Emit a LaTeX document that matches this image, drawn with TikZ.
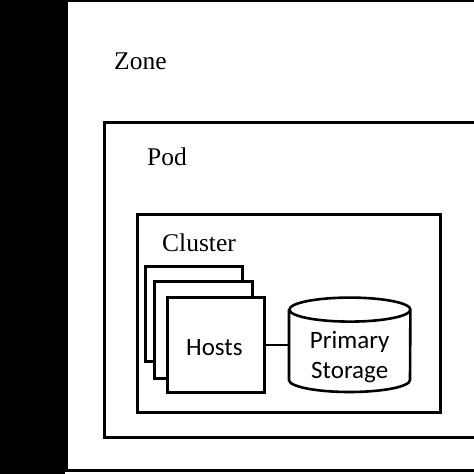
\documentclass[tikz,border=0pt]{standalone}
\usepackage{fontspec}
\setmainfont{Liberation Serif}
\newfontfamily\calib{Carlito}
\begin{document}
\begin{tikzpicture}[x=1pt,y=1pt,
  box/.style={draw=black,line width=2.6pt,fill=white,rectangle,inner sep=0pt,anchor=south west},
  serlabel/.style={font=\fontsize{25.5}{30}\selectfont,anchor=base west,inner sep=0pt},
  sanslabel/.style={font=\calib\fontsize{25}{30}\selectfont,inner sep=0pt,align=center},
  link/.style={draw=black,line width=2.6pt}]
\useasboundingbox (0,0) rectangle (474,474);
\clip (0,0) rectangle (474,474);
\fill[white] (0,0) rectangle (474,474);
\fill[black] (0,0) rectangle (65,474);
% zone
\node[box,minimum width=460pt,minimum height=470pt] (zone) at (65,2) {};
\node[serlabel] (zonelabel) at (114,404) {Zone};
% pod
\node[box,minimum width=420pt,minimum height=315pt] (pod) at (103,35) {};
\node[serlabel] (podlabel) at (147,308) {Pod};
% cluster
\node[box,minimum width=303pt,minimum height=198pt] (cluster) at (136,60) {};
\node[serlabel] (clusterlabel) at (162,222) {Cluster};
% hosts
\node[box,minimum width=97pt,minimum height=95pt] (hostc) at (144,111) {};
\node[box,minimum width=98pt,minimum height=97pt] (hostb) at (153,94) {};
\node[box,minimum width=97pt,minimum height=95pt] (hosta) at (166,80) {};
\node[sanslabel,anchor=base west] (hostslabel) at (186,118) {Hosts};
% primary storage
\node[rectangle,inner sep=0pt,minimum width=121pt,minimum height=94pt,anchor=south west] (ps) at (289,82) {};
\draw[line width=2.6pt,fill=white] (ps.north west) ++(0,-12) -- ([yshift=12pt]ps.south west)
  arc[start angle=180,end angle=360,x radius=60.5pt,y radius=12pt] -- ([yshift=-12pt]ps.north east)
  arc[start angle=0,end angle=180,x radius=60.5pt,y radius=12pt]
  arc[start angle=180,end angle=360,x radius=60.5pt,y radius=12pt];
\node[sanslabel] (pslabel) at ([yshift=-12pt]ps.center) {Primary\\Storage};
\draw[link] (hosta.east) -- (hosta.east -| ps.west);
\end{tikzpicture}
\end{document}
